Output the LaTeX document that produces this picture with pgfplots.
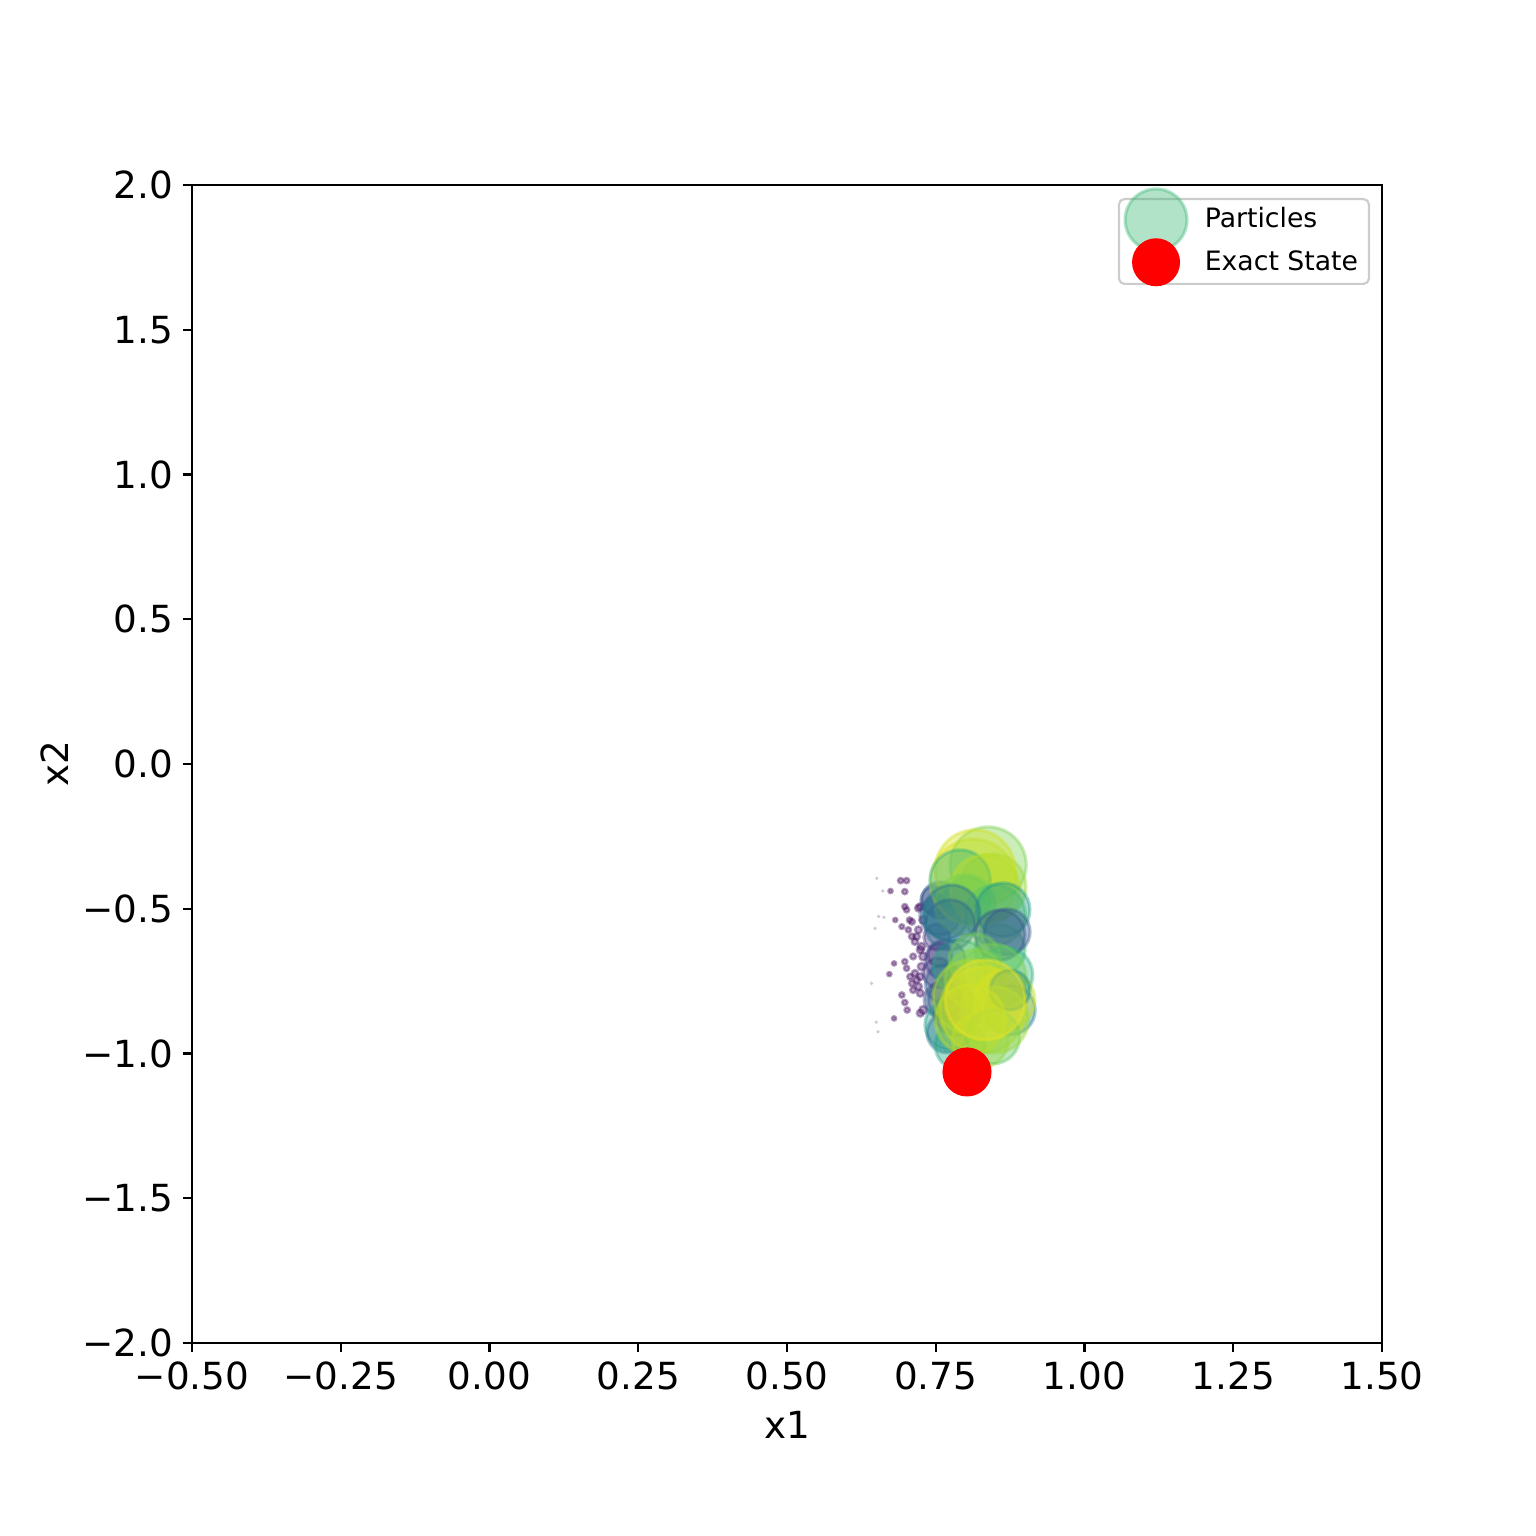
\documentclass[border=0pt]{standalone}
\usepackage{pgfplots}
\pgfplotsset{compat=1.18}
\usepackage{pgfplotstable}
\usepackage{fontspec}
\setmainfont{DejaVu Sans}

\pgfplotstableread{
x y r c
0.651 -0.395 0.5 0.0
0.661 -0.439 0.5 0.0
0.654 -0.527 0.5 0.0
0.663 -0.530 0.5 0.0
0.648 -0.568 0.5 0.0
0.642 -0.758 0.5 0.0
0.650 -0.892 0.5 0.0
0.653 -0.925 0.5 0.0
}\faint

\pgfplotstableread{
x y r c
0.691 -0.403 1.0 0.03
0.701 -0.403 1.0 0.03
0.698 -0.441 1.0 0.03
0.674 -0.439 0.8 0.02
0.698 -0.493 1.0 0.03
0.701 -0.504 1.0 0.03
0.682 -0.539 0.8 0.02
0.706 -0.539 1.0 0.03
0.710 -0.545 1.1 0.04
0.693 -0.562 0.9 0.03
0.704 -0.573 1.0 0.03
0.721 -0.498 1.3 0.05
0.724 -0.493 1.3 0.05
0.718 -0.596 1.2 0.05
0.710 -0.596 1.1 0.04
0.715 -0.614 1.2 0.05
0.726 -0.631 1.4 0.06
0.724 -0.642 1.3 0.05
0.712 -0.665 1.1 0.04
0.698 -0.683 1.0 0.03
0.680 -0.689 0.8 0.02
0.701 -0.706 1.0 0.03
0.715 -0.723 1.2 0.05
0.707 -0.735 1.1 0.04
0.724 -0.735 1.3 0.05
0.710 -0.758 1.1 0.04
0.721 -0.769 1.3 0.05
0.693 -0.798 1.0 0.03
0.698 -0.824 1.0 0.03
0.702 -0.850 1.0 0.03
0.680 -0.879 0.8 0.02
0.724 -0.861 1.3 0.05
0.724 -0.792 1.3 0.05
0.726 -0.700 1.4 0.06
0.729 -0.665 1.5 0.06
0.721 -0.573 1.3 0.05
0.729 -0.539 1.5 0.06
0.672 -0.726 0.8 0.02
0.729 -0.850 1.5 0.06
0.712 -0.781 1.1 0.04
0.718 -0.746 1.2 0.05
}\purple

\pgfplotstableread{
x y r c
0.757 -0.660 4.5 0.10
0.749 -0.470 5.3 0.20
0.752 -0.598 4.9 0.15
0.754 -0.722 5.6 0.15
0.766 -0.760 7.5 0.30
0.761 -0.815 6.8 0.25
0.757 -0.470 6.8 0.30
0.766 -0.677 7.5 0.20
0.757 -0.522 7.5 0.25
0.774 -0.815 8.3 0.30
0.766 -0.529 8.3 0.45
0.774 -0.901 9.4 0.55
0.769 -0.929 7.5 0.40
0.786 -0.860 8.6 0.35
0.791 -0.701 10.1 0.60
0.813 -0.408 16.1 0.97
0.838 -0.349 14.3 0.80
0.846 -0.425 12.4 0.85
0.816 -0.366 15.0 0.93
0.791 -0.401 11.3 0.65
0.803 -0.470 8.6 0.70
0.833 -0.435 13.1 0.90
0.799 -0.487 11.3 0.80
0.850 -0.522 11.3 0.75
0.863 -0.504 10.1 0.55
0.777 -0.515 10.5 0.40
0.774 -0.556 9.4 0.35
0.858 -0.642 9.4 0.70
0.858 -0.591 9.4 0.28
0.870 -0.580 8.6 0.30
0.816 -0.677 9.8 0.78
0.866 -0.729 10.5 0.65
0.846 -0.736 12.4 0.80
0.816 -0.746 11.3 0.82
0.875 -0.850 9.4 0.45
0.791 -0.971 9.4 0.60
0.829 -0.850 16.1 0.95
0.808 -0.805 13.9 0.88
0.866 -0.816 11.3 0.92
0.875 -0.781 7.5 0.50
0.825 -0.953 10.5 0.90
0.846 -0.943 10.1 0.75
0.850 -0.884 12.4 0.85
0.808 -0.884 13.1 0.90
0.833 -0.815 15.0 0.98
}\big

\pgfplotstableread{
x y
0.8025 -1.064
}\exact

\begin{document}
\begin{tikzpicture}
\useasboundingbox (-72pt,-72.4pt) rectangle (504pt,503.6pt);
\begin{axis}[
  at={(0,0)}, anchor=south west,
  scale only axis, width=446.25pt, height=434.25pt,
  xmin=-0.5, xmax=1.5, ymin=-2, ymax=2,
  axis line style={line width=0.8pt},
  tick align=outside, major tick length=3.5pt,
  tick style={line width=0.8pt, black},
  xtick={-0.5,-0.25,0,0.25,0.5,0.75,1,1.25,1.5},
  xticklabels={−0.50,−0.25,0.00,0.25,0.50,0.75,1.00,1.25,1.50},
  ytick={-2,-1.5,-1,-0.5,0,0.5,1,1.5,2},
  yticklabels={−2.0,−1.5,−1.0,−0.5,0.0,0.5,1.0,1.5,2.0},
  xtick pos=bottom, ytick pos=left,
  ticklabel style={font=\fontsize{14}{16}\selectfont},
  label style={font=\fontsize{14}{16}\selectfont},
  xlabel={x1}, ylabel={x2},
  xlabel style={at={(axis description cs:0.5,0)}, anchor=center, yshift=-30.75pt},
  ylabel style={at={(axis description cs:-0.1152,0.5)}, anchor=center},
  colormap/viridis, point meta min=0, point meta max=1,
  legend style={at={(1,1)}, anchor=north east, xshift=-4.5pt, yshift=-4.9pt,
    draw=black!20, line width=0.8pt, rounded corners=2pt, inner sep=0pt,
    row sep=0pt, column sep=0pt,
    font=\fontsize{10}{12}\selectfont,
    nodes={inner sep=0pt, outer sep=0pt},
    cells={anchor=west}},
  legend cell align=left,
  scattersize/.style={
    scatter, only marks, mark=*, scatter src=explicit,
    scatter/use mapped color={draw=mapped color, fill=mapped color},
    visualization depends on={\thisrow{r} \as \rad},
    scatter/@pre marker code/.append style={/tikz/mark size=\rad},
  },
]
\addplot[scattersize, forget plot,
  mark options={fill opacity=0.15, draw opacity=0.15, line width=0.3pt}]
  table[x=x, y=y, meta=c] {\faint};
\addplot[scattersize, forget plot,
  mark options={fill opacity=0.4, draw opacity=0.4, line width=0.9pt}]
  table[x=x, y=y, meta=c] {\purple};
\addplot[scattersize,
  mark options={fill opacity=0.4, draw opacity=0.4, line width=1.2pt},
  legend image code/.code={
    \path[draw=none, fill=none] (0pt,-8.1pt) rectangle (32.2pt,7.8pt);
    \path[overlay, fill={rgb,255:red,62;green,185;blue,120}, fill opacity=0.4,
      draw={rgb,255:red,62;green,185;blue,120}, draw opacity=0.4, line width=1.2pt]
      (13.9pt,0pt) circle (11.6pt);
  }]
  table[x=x, y=y, meta=c] {\big};
\addlegendentry{Particles}
\addplot[only marks, mark=*, mark size=9pt, color=red, fill=red,
  legend image code/.code={
    \path[draw=none, fill=none] (0pt,-8.1pt) rectangle (32.2pt,7.8pt);
    \path[overlay, fill=red, draw=none] (13.9pt,0pt) circle (9pt);
  }]
  table[x=x, y=y] {\exact};
\addlegendentry{Exact State\hspace*{4.1pt}}
\end{axis}
\end{tikzpicture}
\end{document}
